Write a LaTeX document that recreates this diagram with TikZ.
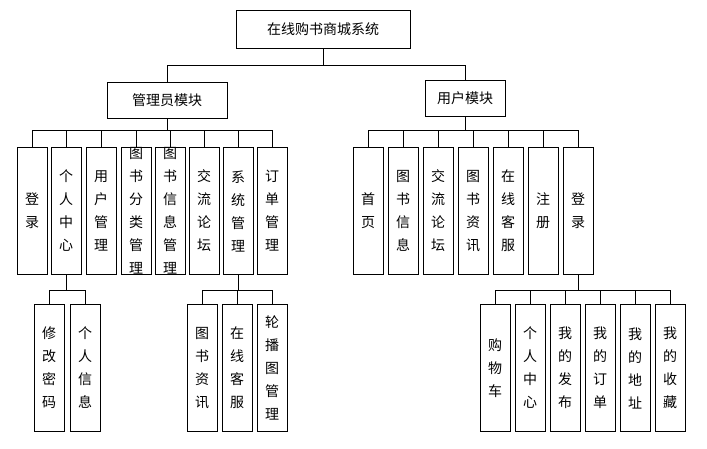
\documentclass[tikz,border=0pt]{standalone}
\usepackage{fontspec}
\newfontfamily\cjk{Noto Sans CJK SC}
\usetikzlibrary{positioning}
\begin{document}
\begin{tikzpicture}[x=1pt,y=-1pt,font=\cjk\fontsize{14}{23}\selectfont]
\tikzset{hbox/.style={draw,thick,inner sep=0pt},
         vbox/.style={draw,thick,minimum width=30pt,minimum height=127pt,align=center,inner sep=0pt},
         link/.style={thick}}
\useasboundingbox (0,0) rectangle (707,448);

%top
\node[hbox,minimum width=174pt,minimum height=38pt] (root) at (323,29) {在线购书商城系统};
\node[hbox,minimum width=120pt,minimum height=36pt] (admin) at (167,100) {管理员模块};
\node[hbox,minimum width=80pt,minimum height=36pt] (user) at (465,98) {用户模块};

%admin modules
\foreach \x/\n/\t in {32/a1/登\\录, 66/a2/个\\人\\中\\心, 101/a3/用\\户\\管\\理,
    136/a4/图\\书\\分\\类\\管\\理, 170/a5/图\\书\\信\\息\\管\\理, 204/a6/交\\流\\论\\坛,
    238/a7/系\\统\\管\\理, 272/a8/订\\单\\管\\理}
  \node[vbox] (\n) at (\x,211) {\t};

%user modules
\foreach \x/\n/\t in {368/u1/首\\页, 403/u2/图\\书\\信\\息, 438/u3/交\\流\\论\\坛,
    473/u4/图\\书\\资\\讯, 508/u5/在\\线\\客\\服, 543/u6/注\\册, 578/u7/登\\录}
  \node[vbox] (\n) at (\x,211) {\t};

%second level
\foreach \x/\n/\t in {49/b1/修\\改\\密\\码, 85/b2/个\\人\\信\\息,
    202/c1/图\\书\\资\\讯, 237/c2/在\\线\\客\\服, 272/c3/轮\\播\\图\\管\\理,
    495/d1/购\\物\\车, 530/d2/个\\人\\中\\心, 565/d3/我\\的\\发\\布,
    600/d4/我\\的\\订\\单, 635/d5/我\\的\\地\\址, 670/d6/我\\的\\收\\藏}
  \node[vbox] (\n) at (\x,368) {\t};

%connectors
\foreach \c in {admin,user}
  \draw[link] (root.south) -- ++(0,17) -| (\c.north);
\foreach \c in {a1,a2,a3,a4,a5,a6,a7,a8}
  \draw[link] (admin.south) -- ++(0,12) -| (\c.north);
\foreach \c in {u1,u2,u3,u4,u5,u6,u7}
  \draw[link] (user.south) -- ++(0,14) -| (\c.north);
\foreach \c in {b1,b2}
  \draw[link] (a2.south) -- ++(0,15) -| (\c.north);
\foreach \c in {c1,c2,c3}
  \draw[link] (a7.south) -- ++(0,15) -| (\c.north);
\foreach \c in {d1,d2,d3,d4,d5,d6}
  \draw[link] (u7.south) -- ++(0,15) -| (\c.north);
\end{tikzpicture}
\end{document}
